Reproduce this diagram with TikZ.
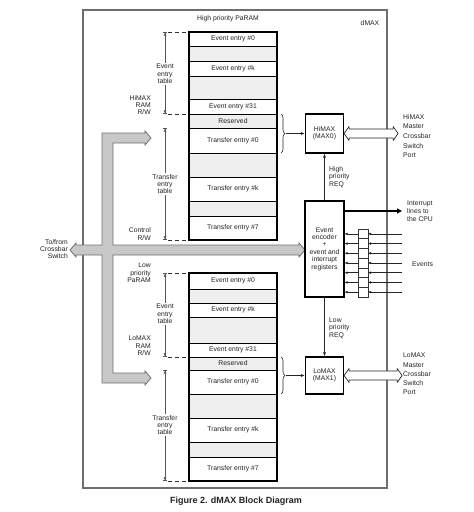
\documentclass[tikz,border=0pt]{standalone}
\usepackage{fontspec}
\setmainfont{Liberation Sans}
\usetikzlibrary{arrows.meta,calc,decorations.pathreplacing}
\definecolor{framegray}{HTML}{6E6E6E}
\definecolor{busfill}{HTML}{C8C8C8}
\definecolor{busline}{HTML}{707070}
\definecolor{rowgray}{HTML}{EFEFEF}
\definecolor{txt}{HTML}{222222}
\definecolor{dimgray}{HTML}{555555}
\newcommand\hollowdbl[2]{\draw[hollowarrow] (#1) -- ($(#1)+(5,-7)$) -- ($(#1)+(5,-4.5)$) -- ($(#2)+(-5,-4.5)$) -- ($(#2)+(-5,-7)$) -- (#2) -- ($(#2)+(-5,7)$) -- ($(#2)+(-5,4.5)$) -- ($(#1)+(5,4.5)$) -- ($(#1)+(5,7)$) -- cycle;}
\begin{document}
\begin{tikzpicture}[x=1pt,y=-1pt,
  font=\fontsize{6.8}{7.4}\selectfont, text=txt,
  row/.style={draw=black, line width=1pt, minimum width=88pt, inner sep=0pt, outer sep=0pt, anchor=north, fill=white},
  grayrow/.style={row, fill=rowgray},
  colframe/.style={draw=black, line width=1.3pt},
  frame/.style={draw=framegray, line width=1.1pt},
  dimline/.style={draw=dimgray, line width=0.6pt, {Bar[width=4pt]Latex[length=3pt,width=3pt]}-{Latex[length=3pt,width=3pt]Bar[width=4pt]}},
  dashline/.style={draw=black!80, line width=0.7pt, dash pattern=on 4pt off 3pt},
  dimlbl/.style={fill=white, align=center, inner sep=1pt},
  rlbl/.style={anchor=east, align=right, inner sep=1pt},
  llbl/.style={anchor=west, align=left, inner sep=1pt},
  maxbox/.style={draw=black, line width=1.2pt, align=center, inner sep=0pt, minimum width=38pt},
  conn/.style={draw=black!85, line width=0.7pt, -{Latex[length=4pt,width=3pt]}},
  evarrow/.style={draw=black!85, line width=0.5pt, -{Latex[length=3pt,width=2.6pt]}},
  reg/.style={draw=black!80, line width=0.5pt, fill=white, minimum width=10pt, minimum height=9.71pt, inner sep=0pt, outer sep=0pt, anchor=north},
  hollowarrow/.style={draw=black!85, line width=0.7pt, fill=white, line join=round},
  brace/.style={draw=black!85, line width=0.6pt, decorate, decoration={brace, amplitude=4pt}},
  bus/.style={draw=busline, line width=0.8pt, fill=busfill, line join=miter}
]
\useasboundingbox (0,0) rectangle (474,512);

% dMAX frame
\draw[frame] (83,10) rectangle (387,488);
\node (dmax) at (370,23) {dMAX};
\node (hptitle) at (228,19) {High priority PaRAM};

% ---------- high priority PaRAM ----------
\node[row, minimum height=14pt] (h0) at (233,32) {Event entry \#0};
\node[grayrow, minimum height=15pt] (hg1) at (h0.south) {};
\node[row, minimum height=15pt] (hk) at (hg1.south) {Event entry \#k};
\node[grayrow, minimum height=23pt] (hg2) at (hk.south) {};
\node[row, minimum height=15pt] (h31) at (hg2.south) {Event entry \#31};
\node[grayrow, minimum height=14pt] (hres) at (h31.south) {Reserved};
\node[row, minimum height=25pt] (ht0) at (hres.south) {Transfer entry \#0};
\node[grayrow, minimum height=24pt] (hg3) at (ht0.south) {};
\node[row, minimum height=24pt] (htk) at (hg3.south) {Transfer entry \#k};
\node[grayrow, minimum height=15pt] (hg4) at (htk.south) {};
\node[row, minimum height=24pt] (ht7) at (hg4.south) {Transfer entry \#7};
\draw[colframe] (h0.north west) rectangle (ht7.south east);

% ---------- low priority PaRAM ----------
\node[row, minimum height=16pt] (l0) at (233,273) {Event entry \#0};
\node[grayrow, minimum height=14pt] (lg1) at (l0.south) {};
\node[row, minimum height=14pt] (lk) at (lg1.south) {Event entry \#k};
\node[grayrow, minimum height=26pt] (lg2) at (lk.south) {};
\node[row, minimum height=14pt] (l31) at (lg2.south) {Event entry \#31};
\node[grayrow, minimum height=13pt] (lres) at (l31.south) {Reserved};
\node[row, minimum height=24pt] (lt0) at (lres.south) {Transfer entry \#0};
\node[grayrow, minimum height=24pt] (lg3) at (lt0.south) {};
\node[row, minimum height=24pt] (ltk) at (lg3.south) {Transfer entry \#k};
\node[grayrow, minimum height=15pt] (lg4) at (ltk.south) {};
\node[row, minimum height=24pt] (lt7) at (lg4.south) {Transfer entry \#7};
\draw[colframe] (l0.north west) rectangle (lt7.south east);

% ---------- dimension lines ----------
\foreach \a/\b in {h0/h31, hres/ht7, l0/l31, lres/lt7} {
  \draw[dashline] ($(\a.north west)+(-21,0)$) -- (\a.north west);
  \draw[dashline] ($(\b.south west)+(-21,0)$) -- (\b.south west);
}
\draw[dimline] ($(h0.north west)+(-24,0)$) -- ($(h31.south west)+(-24,0)$);
\draw[dimline] ($(ht0.north west)+(-24,0)$) -- ($(ht7.south west)+(-24,0)$);
\draw[dimline] ($(l0.north west)+(-24,0)$) -- ($(l31.south west)+(-24,0)$);
\draw[dimline] ($(lt0.north west)+(-24,0)$) -- ($(lt7.south west)+(-24,0)$);

\node[dimlbl] (evtabh) at (165,74) {Event\\entry\\table};
\node[dimlbl] (trtabh) at (165,184) {Transfer\\entry\\table};
\node[dimlbl] (evtabl) at (165,314) {Event\\entry\\table};
\node[dimlbl] (trtabl) at (165,425) {Transfer\\entry\\table};

\node[rlbl] (himaxrw) at (152,105) {HiMAX\\RAM\\R/W};
\node[rlbl] (ctrlrw) at (152,234) {Control\\R/W};
\node[rlbl] (lptitle) at (152,273) {Low\\priority\\PaRAM};
\node[rlbl] (lomaxrw) at (152,346) {LoMAX\\RAM\\R/W};
\node[rlbl] (xbar) at (69,249) {To/from\\Crossbar\\Switch};

% ---------- gray bus ----------
\draw[bus] (102,133) -- (145,133) -- (145,131) -- (151,138) -- (145,145) -- (145,143)
  -- (113,143) -- (113,245) -- (299,245) -- (299,243) -- (305,250) -- (299,257) -- (299,255)
  -- (113,255) -- (113,373) -- (145,373) -- (145,371) -- (151,378) -- (145,385) -- (145,383)
  -- (102,383) -- (102,255) -- (76,255) -- (76,257) -- (70,250) -- (76,243) -- (76,245)
  -- (102,245) -- cycle;

% ---------- encoder and MAX blocks ----------
\node[draw=black, line width=1.1pt, minimum width=39pt, minimum height=96pt, align=center, inner sep=0pt, fill=white] (enc) at (324.5,249) {Event\\encoder\\+\\event and\\interrupt\\registers};
\node[maxbox, minimum height=39pt] (himax) at (324.5,133.5) {HiMAX\\(MAX0)};
\node[maxbox, minimum height=37pt] (lomax) at (324.5,375.5) {LoMAX\\(MAX1)};

\draw[conn] (enc.north) -- (himax.south);
\draw[conn] (enc.south) -- (lomax.north);
\node[llbl] (hreq) at (328,177) {High\\priority\\REQ};
\node[llbl] (lreq) at (328,328) {Low\\priority\\REQ};

% braces
\draw[brace] ($(hres.north east)+(4,0)$) -- ($(ht0.south east)+(4,0)$);
\coordinate (hbt) at ($(hres.north east)!0.5!(ht0.south east)+(9,0)$);
\draw[conn] (hbt) -- (himax.west);
\draw[brace] ($(lres.north east)+(4,0)$) -- ($(lt0.south east)+(4,0)$);
\coordinate (lbt) at ($(lres.north east)!0.5!(lt0.south east)+(9,0)$);
\draw[conn] (lbt) -- (lomax.west);

% master ports
\coordinate (hport) at ($(himax.east)+(54,0)$);
\coordinate (lport) at ($(lomax.east)+(58,0)$);
\hollowdbl{himax.east}{hport}
\hollowdbl{lomax.east}{lport}
\node[llbl, font=\fontsize{6.8}{9.6}\selectfont] (hportlbl) at (402,136) {HiMAX\\Master\\Crossbar\\Switch\\Port};
\node[llbl, font=\fontsize{6.8}{9.3}\selectfont] (lportlbl) at (402,374) {LoMAX\\Master\\Crossbar\\Switch\\Port};

% interrupt lines
\coordinate (cpu) at (402,211);
\draw[line width=2pt, -{Triangle[length=5pt,width=5pt]}] (enc.east |- cpu) -- (cpu);
\node[llbl, font=\fontsize{6.8}{8}\selectfont] (irqlbl) at (406,211) {Interrupt\\lines to\\the CPU};

% event registers
\node[reg] (r1) at (363,229) {};
\node[reg] (r2) at (r1.south) {};
\node[reg] (r3) at (r2.south) {};
\node[reg] (r4) at (r3.south) {};
\node[reg] (r5) at (r4.south) {};
\node[reg] (r6) at (r5.south) {};
\node[reg] (r7) at (r6.south) {};
\coordinate (evsrc) at (402,263);
\foreach \i in {1,...,7} {
  \draw[evarrow] (r\i.east -| evsrc) -- (r\i.east);
  \draw[evarrow] (r\i.west) -- (r\i.west -| enc.east);
}
\node[llbl] (evlbl) at (411,264) {Events};

% caption
\node[font=\bfseries\fontsize{9}{10}\selectfont] (caption) at (236,501) {Figure 2. dMAX Block Diagram};
\end{tikzpicture}
\end{document}
